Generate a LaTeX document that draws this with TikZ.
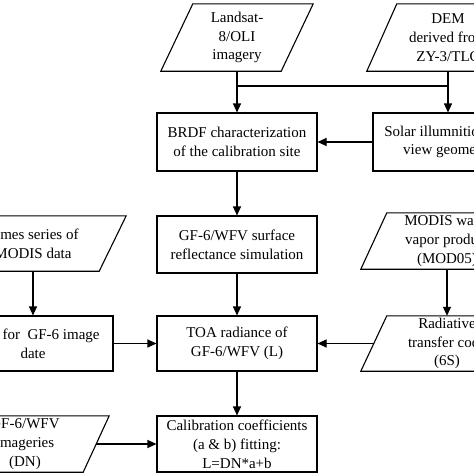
\documentclass[tikz,border=0pt]{standalone}
\usepackage{fontspec}
\setmainfont{Liberation Serif}
\usetikzlibrary{arrows.meta}
\newcommand\drawpara[2]{\draw[lw] ([xshift=#2pt]#1.north west) -- ([xshift=#2pt]#1.north east) -- ([xshift=-#2pt]#1.south east) -- ([xshift=-#2pt]#1.south west) -- cycle;}
\begin{document}
\begin{tikzpicture}[x=1pt,y=-1pt,
  font=\fontsize{15}{18.8}\selectfont,
  lw/.style={line width=1.1pt},
  box/.style={draw, lw, rectangle, inner sep=0pt, align=center},
  pbox/.style={rectangle, inner sep=0pt, align=center},
  arr/.style={lw, -{Triangle[length=9pt,width=8pt]}}]
\useasboundingbox (0,0) rectangle (474,474);
\clip (0,0) rectangle (474,474);
\fill[white] (0,0) rectangle (474,474);
% inputs top
\node[pbox, minimum width=120pt, minimum height=67pt] (land) at (237,37.5) {Landsat-\\8/OLI\\imagery};
\node[pbox, minimum width=132pt, minimum height=67pt] (dem) at (448,37.5) {DEM\\derived from\\ZY-3/TLC};
% process boxes
\node[box, minimum width=160pt, minimum height=58pt] (brdf) at (237,142) {BRDF characterization\\of the calibration site};
\node[box, minimum width=150pt, minimum height=58pt] (solar) at (448,142) {Solar illumnition and\\view geometry};
\node[box, minimum width=160pt, minimum height=57pt] (surf) at (237,244.5) {GF-6/WFV surface\\reflectance simulation};
\node[pbox, minimum width=159pt, minimum height=55pt] (times) at (33,243.5) {Times series of\\MODIS data};
\node[pbox, minimum width=146pt, minimum height=56pt] (wv) at (447,241) {MODIS water\\vapor product\\(MOD05)};
\node[box, minimum width=160pt, minimum height=55pt] (aod) at (33,343.5) {AOD for~ GF-6 image\\date};
\node[box, minimum width=160pt, minimum height=55pt] (toa) at (237,343.5) {TOA radiance of\\GF-6/WFV (L)};
\node[pbox, minimum width=146pt, minimum height=55pt] (rt) at (447,343.5) {Radiative\\transfer code\\(6S)};
\node[box, minimum width=160pt, minimum height=56pt] (cal) at (237,444) {Calibration coefficients\\(a \& b) fitting:\\L=DN*a+b};
\node[pbox, minimum width=142pt, minimum height=56pt] (dn) at (25,444) {GF-6/WFV\\imageries\\(DN)};
% parallelogram outlines
\drawpara{land}{16}
\drawpara{dem}{15}
\drawpara{times}{13.5}
\drawpara{wv}{13}
\drawpara{rt}{13}
\drawpara{dn}{13}
% connectors
\coordinate (j) at (0,86);
\draw[arr] (land) -- (brdf);
\draw[arr] (dem) -- (solar);
\draw[lw] (land.south |- j) -- (dem.south |- j);
\draw[arr] (solar) -- (brdf);
\draw[arr] (brdf) -- (surf);
\draw[arr] (surf) -- (toa);
\draw[arr] (times) -- (aod);
\draw[arr] (wv) -- (rt);
\draw[arr] (aod) -- (toa);
\draw[arr] (rt) -- (toa);
\draw[arr] (toa) -- (cal);
\draw[arr] (dn) -- (cal);
\end{tikzpicture}
\end{document}
